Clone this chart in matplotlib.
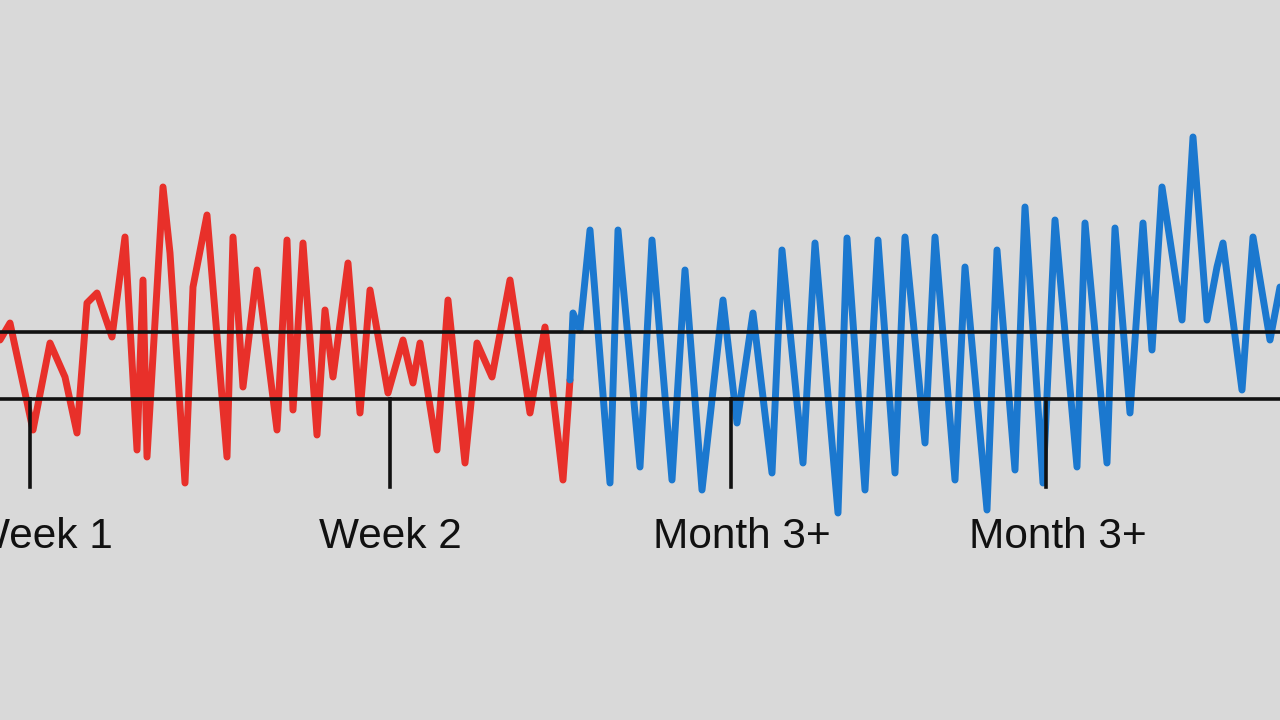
import matplotlib.pyplot as plt

# waveform turning points (x position, signal level; level grows downward)
red_x = [0, 10, 33, 50, 65, 77, 87, 97, 112, 125, 137, 143, 147, 163, 170, 185, 193, 207, 227,
         233, 243, 257, 277, 287, 293, 303, 317, 325, 333, 348, 360, 370, 388, 403, 413, 420,
         437, 448, 465, 477, 492, 510, 530, 545, 563, 570]
red_y = [340, 323, 430, 343, 377, 433, 303, 293, 337, 237, 450, 280, 457, 187, 253, 483, 287, 215,
         457, 237, 387, 270, 430, 240, 410, 243, 435, 310, 377, 263, 413, 290, 393, 340, 383, 343,
         450, 300, 463, 343, 377, 280, 413, 327, 480, 380]

blue_x = [570, 573, 580, 590, 610, 618, 640, 652, 672, 685, 702, 723, 737, 753, 772, 782, 803,
          815, 838, 847, 865, 878, 895, 905, 925, 935, 955, 965, 987, 997, 1015, 1025, 1043, 1055,
          1077, 1085, 1107, 1115, 1130, 1143, 1152, 1162, 1182, 1193, 1207, 1217, 1223, 1242,
          1253, 1270, 1280]
blue_y = [380, 313, 330, 230, 483, 230, 467, 240, 480, 270, 490, 300, 423, 313, 473, 250, 463,
          243, 513, 238, 490, 240, 473, 237, 443, 237, 480, 267, 510, 250, 470, 207, 483, 220,
          467, 223, 463, 228, 413, 223, 350, 187, 320, 137, 320, 267, 243, 390, 237, 340, 287]

baselines = [332, 399]
tick_x = [30, 390, 731, 1046]
labels = ["Week 1", "Week 2", "Month 3+", "Month 3+"]
label_x = [41, 390, 742, 1058]

fig = plt.figure(figsize=(12.8, 7.2), dpi=100)
fig.patch.set_facecolor('#d9d9d9')
ax = fig.add_axes([0, 0, 1, 1])
ax.set_facecolor('#d9d9d9')
ax.set_xlim(0, 1280)
ax.set_ylim(720, 0)
ax.axis('off')

for y in baselines:
    ax.axhline(y, color='#111111', lw=2.6, zorder=3)

ax.plot(red_x, red_y, color='#e8302a', lw=5, solid_joinstyle='round',
        solid_capstyle='round', zorder=2)
ax.plot(blue_x, blue_y, color='#1b78cf', lw=5, solid_joinstyle='round',
        solid_capstyle='round', zorder=2)

for x in tick_x:
    ax.plot([x, x], [baselines[1], 487], color='#111111', lw=2.6, zorder=3)

for x, t in zip(label_x, labels):
    ax.text(x, 537, t, ha='center', va='center', fontsize=30.5,
            family='Liberation Sans', color='#111111')

plt.savefig('out.png', dpi=100, facecolor=fig.get_facecolor())
